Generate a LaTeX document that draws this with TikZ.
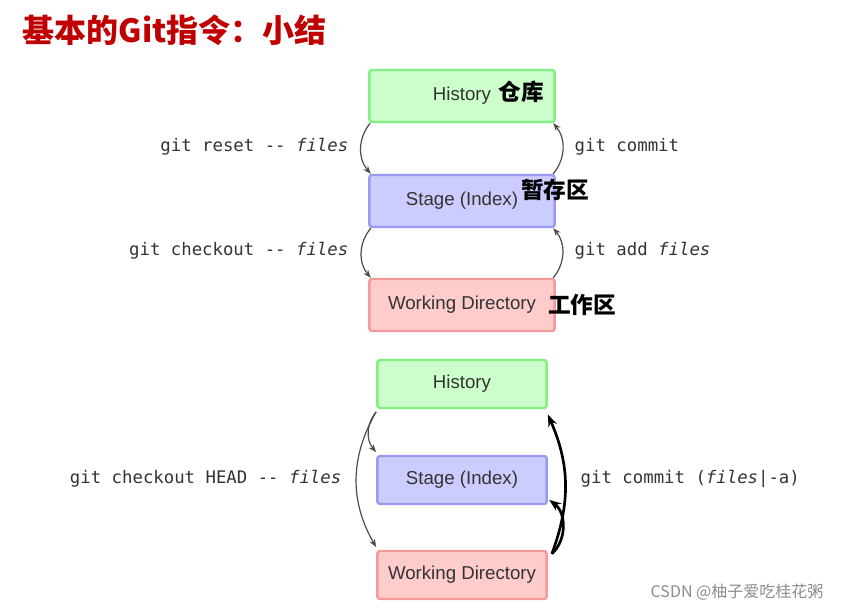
\documentclass[tikz,border=0pt]{standalone}
\usepackage{fontspec}
\setmainfont{Liberation Sans}
\newfontfamily\cjk{Noto Sans CJK SC}
\newfontfamily\monof{DejaVu Sans Mono}
\usetikzlibrary{arrows.meta}
\definecolor{gfill}{HTML}{CCFFCC}\definecolor{gdraw}{HTML}{80F080}
\definecolor{bfill}{HTML}{CCCCFF}\definecolor{bdraw}{HTML}{9A9AF5}
\definecolor{rfill}{HTML}{FFCCCC}\definecolor{rdraw}{HTML}{F59A9A}
\definecolor{titler}{HTML}{C00000}
\begin{document}
\begin{tikzpicture}[x=0.75pt,y=-0.75pt,
 box/.style={draw,line width=1.8pt,rounded corners=2pt,font=\fontsize{14}{16}\selectfont\color{black!80}},
 gbox/.style={box,fill=gfill,draw=gdraw},
 bbox/.style={box,fill=bfill,draw=bdraw},
 rbox/.style={box,fill=rfill,draw=rdraw},
 lab/.style={font=\monof\fontsize{13}{15}\selectfont\color{black!80}},
 ar/.style={-{Stealth[length=6pt]},draw=black!70,line width=0.9pt},
 bar/.style={-{Stealth[length=9pt]},draw=black,line width=2pt},
 hand/.style={font=\cjk\bfseries\fontsize{17}{19}\selectfont}]
\useasboundingbox (0,0) rectangle (841,611);
\node[anchor=west,font=\cjk\bfseries\fontsize{24}{28}\selectfont,text=titler] (title) at (18,30) {基本的Git指令：小结};
\node[gbox,minimum width=139pt,minimum height=39pt] (h1) at (462,96) {History};
\node[bbox,minimum width=139pt,minimum height=39pt] (s1) at (462,201) {Stage (Index)};
\node[rbox,minimum width=139pt,minimum height=39pt] (w1) at (462,305) {Working Directory};
\node[hand] (c1) at (521,92) {仓库};
\node[hand] (c2) at (555,190) {暂存区};
\node[hand] (c3) at (582,305) {工作区};
\draw[ar] (h1.south west) ++(2,0) coordinate (a1) to[bend right=40] ([xshift=2pt]s1.north west);
\draw[ar] ([xshift=-2pt]s1.north east) to[bend right=40] ([xshift=-2pt]h1.south east);
\draw[ar] ([xshift=2pt]s1.south west) to[bend right=40] ([xshift=2pt]w1.north west);
\draw[ar] ([xshift=-2pt]w1.north east) to[bend right=40] ([xshift=-2pt]s1.south east);
\node[lab,anchor=east] (l1) at (353,147) {git reset -- \textit{files}};
\node[lab,anchor=west] (l2) at (570,147) {git commit};
\node[lab,anchor=east] (l3) at (353,251) {git checkout -- \textit{files}};
\node[lab,anchor=west] (l4) at (570,251) {git add \textit{files}};
\node[gbox,minimum width=127pt,minimum height=36pt] (h2) at (462,384) {History};
\node[bbox,minimum width=127pt,minimum height=36pt] (s2) at (462,480) {Stage (Index)};
\node[rbox,minimum width=127pt,minimum height=36pt] (w2) at (462,575) {Working Directory};
\draw[ar] ([yshift=-2pt]h2.south west) to[bend right=40] ([yshift=2pt]s2.north west);
\draw[ar] ([yshift=-2pt]h2.south west) to[bend right=30] ([yshift=2pt]w2.north west);
\draw[bar] ([xshift=3pt,yshift=-3pt]w2.north east) to[bend right=22] ([yshift=-4pt]h2.south east);
\draw[bar] ([xshift=3pt,yshift=-3pt]w2.north east) to[bend right=50] ([xshift=1pt,yshift=4pt]s2.south east);
\node[lab,anchor=east] (l5) at (346,479) {git checkout HEAD -- \textit{files}};
\node[lab,anchor=west] (l6) at (576,479) {git commit (\textit{files}|-a)};
\node[anchor=east,font=\cjk\fontsize{12}{14}\selectfont,text=black!45] (wm) at (828,592) {CSDN @柚子爱吃桂花粥};
\end{tikzpicture}
\end{document}
